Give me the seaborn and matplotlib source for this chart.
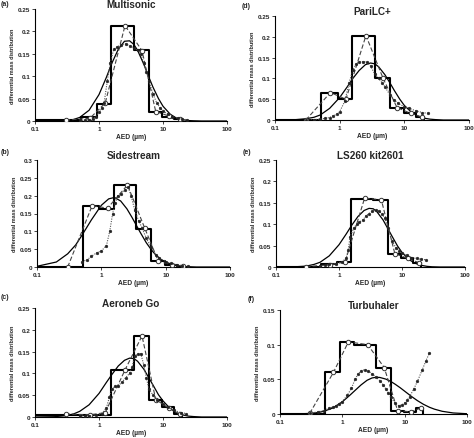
import numpy as np
import pandas as pd
import seaborn as sns
import matplotlib
matplotlib.use("Agg")
import matplotlib.pyplot as plt
from matplotlib.ticker import FuncFormatter, NullLocator

# impactor stage edges (um), shared by all panels
edges = [0.1, 0.52, 0.93, 1.55, 3.5, 6.0, 9.8, 15.0, 20.0]
circ_x = [0.3, 0.72, 1.25, 2.55, 4.7, 7.7, 12.5, 18.5]
fit_x = [0.1, 0.2, 0.3, 0.4, 0.5, 0.7, 1, 1.3, 1.6, 2, 2.5, 3, 3.5, 4, 5, 6, 7,
         8.5, 10, 13, 16, 20, 25, 30, 40, 60, 100]

# (a) Multisonic
a_hist = [0.003, 0.008, 0.038, 0.213, 0.158, 0.02, 0.01, 0.004]
a_circ = [0.002, 0.006, 0.04, 0.213, 0.157, 0.021, 0.011, 0.005]
a_dot_x = [0.5, 0.6, 0.7, 0.8, 0.9, 1.0, 1.1, 1.2, 1.35, 1.5, 1.7, 1.9, 2.2, 2.6, 3.0, 3.5,
           4.0, 4.5, 5.0, 5.5, 6.0, 7.0, 8.0, 9.0, 10, 12, 14, 17, 20, 24]
a_dot_y = [0.0, 0.002, 0.003, 0.005, 0.01, 0.02, 0.03, 0.04, 0.09, 0.13, 0.16, 0.165, 0.17,
           0.172, 0.168, 0.163, 0.158, 0.15, 0.13, 0.11, 0.09, 0.06, 0.04, 0.03, 0.022,
           0.015, 0.01, 0.007, 0.004, 0.003]
a_fit = [0, 0.0001, 0.001, 0.0034, 0.008, 0.024, 0.059, 0.097, 0.13, 0.16, 0.178, 0.179,
         0.171, 0.158, 0.127, 0.098, 0.075, 0.05, 0.033, 0.015, 0.007, 0.003, 0.001,
         0.0005, 0, 0, 0]

# (b) Sidestream
b_hist = [0.0, 0.171, 0.163, 0.231, 0.107, 0.016, 0.006, 0.003]
b_circ = [0.0, 0.172, 0.165, 0.23, 0.11, 0.016, 0.006, 0.003]
b_dot_x = [0.5, 0.6, 0.7, 0.85, 1.0, 1.2, 1.35, 1.5, 1.65, 1.8, 2.0, 2.3, 2.6, 2.9, 3.3,
           3.8, 4.3, 5.0, 6.0, 7.0, 8.0, 10, 12, 15, 18, 22]
b_dot_y = [0.015, 0.02, 0.03, 0.04, 0.045, 0.06, 0.1, 0.15, 0.18, 0.2, 0.205, 0.215, 0.225,
           0.2, 0.16, 0.13, 0.11, 0.08, 0.055, 0.035, 0.025, 0.015, 0.01, 0.006, 0.004,
           0.003]
b_fit = [0.002, 0.014, 0.037, 0.062, 0.089, 0.132, 0.173, 0.191, 0.195, 0.185, 0.163,
         0.139, 0.117, 0.098, 0.068, 0.048, 0.034, 0.021, 0.013, 0.006, 0.003, 0.0013,
         0.0005, 0, 0, 0, 0]

# (c) Aeroneb Go
c_hist = [0.005, 0.005, 0.004, 0.107, 0.186, 0.04, 0.022, 0.006]
c_circ = [0.007, 0.005, 0.01, 0.108, 0.186, 0.04, 0.02, 0.006]
c_dot_x = [0.5, 0.6, 0.7, 0.9, 1.1, 1.3, 1.45, 1.6, 1.8, 2.0, 2.3, 2.6, 3.0, 3.3, 3.6, 4.0,
           4.5, 5.0, 5.5, 6.0, 7.0, 8.0, 10, 12, 15, 19, 23]
c_dot_y = [0.002, 0.003, 0.003, 0.004, 0.008, 0.02, 0.045, 0.065, 0.07, 0.072, 0.08, 0.09,
           0.1, 0.115, 0.14, 0.145, 0.145, 0.12, 0.09, 0.065, 0.05, 0.04, 0.03, 0.022,
           0.015, 0.01, 0.008]
c_fit = [0, 0.0007, 0.003, 0.007, 0.013, 0.028, 0.054, 0.079, 0.098, 0.117, 0.13, 0.135,
         0.134, 0.128, 0.11, 0.09, 0.073, 0.051, 0.037, 0.019, 0.01, 0.005, 0.002, 0.001,
         0, 0, 0]

# (d) PariLC+
d_hist = [0.0, 0.065, 0.05, 0.203, 0.1, 0.03, 0.016, 0.007]
d_circ = [0.0, 0.066, 0.05, 0.203, 0.1, 0.03, 0.016, 0.007]
d_dot_x = [0.3, 0.4, 0.5, 0.6, 0.7, 0.8, 0.9, 1.0, 1.2, 1.4, 1.6, 1.8, 2.0, 2.3, 2.6, 3.0,
           3.5, 4.0, 4.5, 5.0, 6.0, 7.0, 8.0, 10, 12, 15, 19, 23]
d_dot_y = [0.0, 0.001, 0.002, 0.004, 0.006, 0.01, 0.014, 0.02, 0.045, 0.09, 0.12, 0.135,
           0.14, 0.14, 0.14, 0.13, 0.11, 0.1, 0.09, 0.08, 0.06, 0.048, 0.04, 0.032, 0.028,
           0.022, 0.018, 0.016]
d_fit = [0, 0.0006, 0.003, 0.0065, 0.012, 0.028, 0.054, 0.079, 0.1, 0.119, 0.133, 0.137,
         0.135, 0.128, 0.109, 0.089, 0.071, 0.05, 0.035, 0.018, 0.01, 0.0045, 0.002, 0.001,
         0, 0, 0]

# (e) LS260 kit2601
e_hist = [0.001, 0.006, 0.012, 0.16, 0.157, 0.03, 0.022, 0.01]
e_circ = [0.001, 0.005, 0.012, 0.161, 0.157, 0.031, 0.02, 0.01]
e_dot_x = [0.5, 0.6, 0.7, 0.9, 1.1, 1.3, 1.4, 1.5, 1.7, 1.9, 2.1, 2.4, 2.7, 3.0, 3.4, 3.8,
           4.3, 4.8, 5.3, 6.0, 7.0, 8.0, 9.0, 10, 12, 14, 17, 20, 24]
e_dot_y = [0.003, 0.004, 0.006, 0.008, 0.012, 0.02, 0.04, 0.07, 0.09, 0.1, 0.105, 0.11,
           0.12, 0.125, 0.13, 0.133, 0.13, 0.125, 0.115, 0.09, 0.06, 0.045, 0.038, 0.033,
           0.027, 0.022, 0.02, 0.018, 0.017]
e_fit = [0, 0.0005, 0.002, 0.006, 0.011, 0.026, 0.052, 0.077, 0.098, 0.118, 0.132, 0.137,
         0.136, 0.129, 0.11, 0.089, 0.071, 0.049, 0.034, 0.017, 0.009, 0.004, 0.0015,
         0.0005, 0, 0, 0]

# (f) Turbuhaler
f_hist = [0.0, 0.06, 0.104, 0.1, 0.067, 0.005, 0.003, 0.009]
f_circ = [0.001, 0.06, 0.104, 0.1, 0.067, 0.005, 0.003, 0.009]
f_dot_x = [0.3, 0.4, 0.5, 0.6, 0.7, 0.8, 0.9, 1.0, 1.2, 1.4, 1.6, 1.8, 2.0, 2.3, 2.6, 3.0,
           3.5, 4.0, 4.5, 5.0, 5.5, 6.0, 7.0, 8.0, 9.0, 10, 11, 12, 14, 16, 19, 22, 25]
f_dot_y = [0.001, 0.003, 0.005, 0.008, 0.01, 0.012, 0.015, 0.018, 0.027, 0.037, 0.05, 0.058,
           0.062, 0.064, 0.062, 0.058, 0.053, 0.048, 0.042, 0.036, 0.03, 0.024, 0.016,
           0.012, 0.013, 0.016, 0.02, 0.025, 0.036, 0.047, 0.063, 0.077, 0.088]
f_fit = [0, 0.0002, 0.0008, 0.002, 0.0038, 0.0086, 0.0176, 0.0265, 0.034, 0.042, 0.0487,
         0.052, 0.053, 0.0527, 0.0503, 0.0469, 0.0431, 0.0378, 0.0329, 0.025, 0.0193,
         0.014, 0.0097, 0.007, 0.0039, 0.0015, 0.0004]

titles = ["Multisonic", "Sidestream", "Aeroneb Go", "PariLC+", "LS260 kit2601", "Turbuhaler"]
letters = ["(a)", "(b)", "(c)", "(d)", "(e)", "(f)"]
ymax = [0.25, 0.3, 0.25, 0.25, 0.25, 0.15]

panels = [
    (a_hist, a_circ, a_dot_x, a_dot_y, a_fit),
    (b_hist, b_circ, b_dot_x, b_dot_y, b_fit),
    (c_hist, c_circ, c_dot_x, c_dot_y, c_fit),
    (d_hist, d_circ, d_dot_x, d_dot_y, d_fit),
    (e_hist, e_circ, e_dot_x, e_dot_y, e_fit),
    (f_hist, f_circ, f_dot_x, f_dot_y, f_fit),
]

# axes rectangles in pixels: left, top, right, bottom
W, H = 474, 439
boxes = [(35, 10, 227, 122), (37, 161, 230, 268), (35, 309, 227, 418),
         (275, 17, 469, 121), (276, 161, 465, 268), (280, 311, 467, 415)]
label_pos = [(1, 5), (1, 153), (1, 298), (242, 6), (243, 152), (248, 300)]

sns.set_style("ticks")
plt.rcParams["font.family"] = ["Liberation Sans", "DejaVu Sans"]

fig = plt.figure(figsize=(W / 100, H / 100), dpi=100)

for i, (hist, circ, dx, dy, fit) in enumerate(panels):
    l, t, r, b = boxes[i]
    ax = fig.add_axes([l / W, 1 - b / H, (r - l) / W, (b - t) / H])

    step = pd.DataFrame({"x": edges, "y": list(hist) + [0.0]})
    sns.lineplot(data=step, x="x", y="y", ax=ax, color="black", linewidth=1.5,
                 drawstyle="steps-post", estimator=None, sort=False, zorder=2)
    sns.lineplot(x=fit_x, y=fit, ax=ax, color="black", linewidth=0.9,
                 estimator=None, sort=False, zorder=3)
    sns.lineplot(x=circ_x, y=circ, ax=ax, color="#444444", linewidth=0.8,
                 linestyle=(0, (4, 2)), marker="o", markersize=3.2,
                 markerfacecolor="white", markeredgecolor="#333333",
                 markeredgewidth=0.7, estimator=None, sort=False, zorder=4)
    sns.lineplot(x=dx, y=dy, ax=ax, color="#555555", linewidth=0.8,
                 linestyle=(0, (1, 1.2)), marker="o", markersize=2.0,
                 markerfacecolor="#222222", markeredgecolor="#222222",
                 markeredgewidth=0.3, estimator=None, sort=False, zorder=5)

    ax.set_xscale("log")
    ax.set_xlim(0.1, 100)
    ax.set_ylim(0, ymax[i])
    ax.set_xticks([0.1, 1, 10, 100])
    ax.set_xticklabels(["0.1", "1", "10", "100"])
    ax.xaxis.set_minor_locator(NullLocator())
    ax.set_yticks(np.arange(0, ymax[i] + 0.001, 0.05))
    ax.yaxis.set_major_formatter(FuncFormatter(lambda v, p: "%g" % round(v, 2)))
    ax.tick_params(labelsize=4.6, length=2, width=0.6, pad=1.5)
    for lab in ax.get_xticklabels() + ax.get_yticklabels():
        lab.set_fontweight("bold")
    sns.despine(ax=ax)
    for s in ["left", "bottom"]:
        ax.spines[s].set_linewidth(0.8)
        ax.spines[s].set_color("black")

    ax.set_xlabel("AED (\u00b5m)", fontsize=4.8, fontweight="bold", labelpad=1.5)
    ax.set_ylabel("differential mass distribution", fontsize=4.0, fontweight="bold",
                  labelpad=2)
    ax.set_title(titles[i], fontsize=7.2, fontweight="bold", pad=1.5)

    lx, ly = label_pos[i]
    fig.text(lx / W, 1 - ly / H, letters[i], fontsize=5, fontweight="bold",
             va="center", ha="left")

fig.savefig("out.png", dpi=100)
